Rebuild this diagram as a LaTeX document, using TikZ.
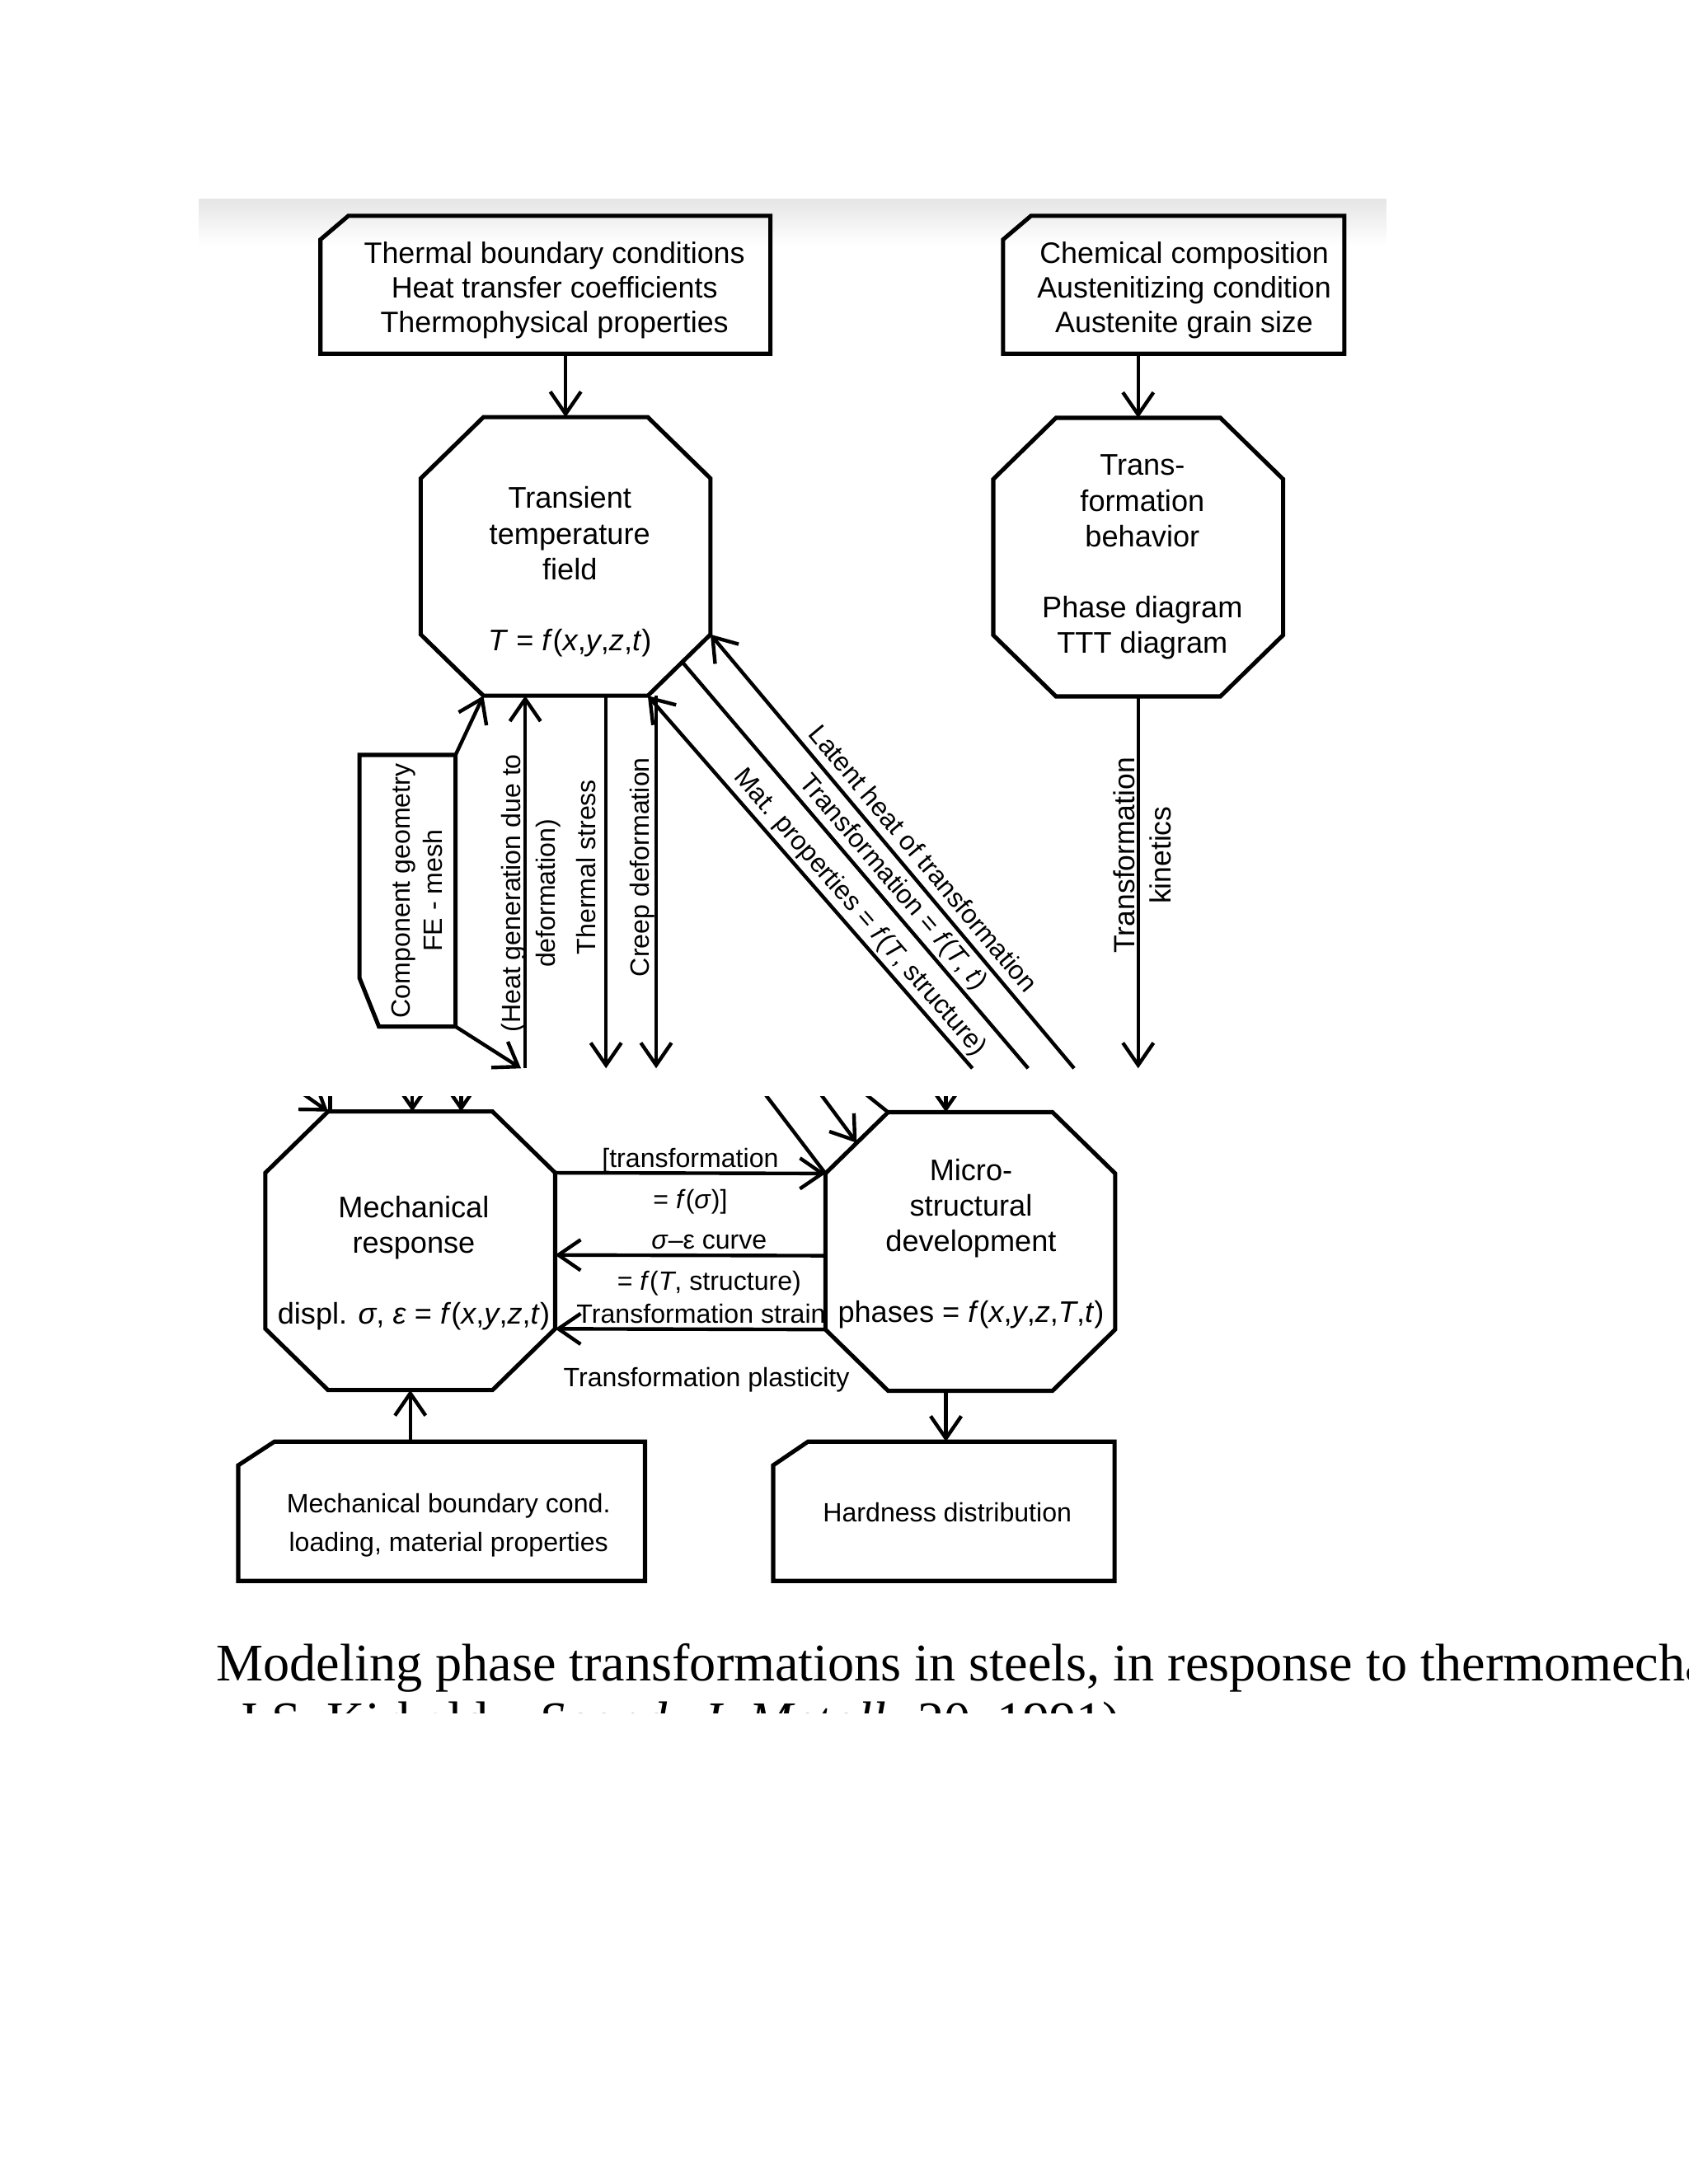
\documentclass[tikz,border=0pt]{standalone}
\usepackage{fontspec}
\usepackage{graphicx}
\setmainfont{Liberation Sans}
\newfontfamily\capfont{Liberation Serif}
\usetikzlibrary{arrows.meta,calc}

\begin{document}
\begin{tikzpicture}[x=0.5pt,y=-0.5pt,
  arr/.style={line width=1.3pt,-{Straight Barb[length=8pt,width=11pt,line width=1.3pt]}},
  ln/.style={line width=1.3pt},
  outline/.style={line width=1.5pt},
  octo/.style={minimum width=104pt,minimum height=100pt,inner sep=0pt,outer sep=0pt},
  box/.style={inner sep=0pt,outer sep=0pt},
  boxtxt/.style={align=center,inner sep=0pt},
  big/.style={font=\fontsize{10.7}{12.75}\selectfont,align=center,inner sep=0pt},
  lab/.style={font=\fontsize{9.5}{11.5}\selectfont,inner sep=1pt,text height=7pt,text depth=2pt},
  lab2/.style={font=\fontsize{9.5}{12.5}\selectfont,align=center,inner sep=0pt}]
\useasboundingbox (0,0) rectangle (1212,1568);
\shade[top color=black!10,bottom color=white] (143,143) rectangle (995,176);

% input boxes
\node[box,minimum width=161.5pt,minimum height=49.5pt] (tbc) at (391.5,204.5) {};
\node[box,minimum width=122.5pt,minimum height=49.5pt] (chem) at (842.5,204.5) {};
\node[box,minimum width=146pt,minimum height=50pt] (mbc) at (317,1085) {};
\node[box,minimum width=122.5pt,minimum height=50pt] (hard) at (677.5,1085) {};
\foreach \n/\cx/\cy in {tbc/20/17, chem/20/17, mbc/26/17, hard/25/17}
  \draw[outline] ($(\n.north west)+(\cx,0)$) -- (\n.north east) -- (\n.south east)
    -- (\n.south west) -- ($(\n.north west)+(0,\cy)$) -- cycle;
\node[boxtxt,font=\fontsize{10.6}{12.5}\selectfont] (tbc-txt) at (398,208.5)
  {Thermal boundary conditions\\Heat transfer coefficients\\Thermophysical properties};
\node[boxtxt,font=\fontsize{10.6}{12.5}\selectfont] (chem-txt) at (850,208.5)
  {Chemical composition\\Austenitizing condition\\Austenite grain size};
\node[boxtxt,font=\fontsize{9.5}{14}\selectfont] (mbc-txt) at (322,1095)
  {Mechanical boundary cond.\\loading, material properties};
\node[boxtxt,font=\fontsize{9.5}{14}\selectfont] (hard-txt) at (680,1086)
  {Hardness distribution};

\node[box,minimum width=34.5pt,minimum height=97.5pt,font=\fontsize{9.5}{11.5}\selectfont] (geo) at (292.5,639.5)
  {\hspace*{9pt}\rotatebox{90}{\begin{tabular}{@{}c@{}}Component geometry\\FE - mesh\end{tabular}}};
\draw[outline] (geo.north west) -- (geo.north east) -- (geo.south east)
  -- ($(geo.south west)+(14,0)$) -- ($(geo.south west)+(0,-35)$) -- cycle;

% octagons
\node[octo] (temp) at (406,399.5) {};
\node[octo] (trans) at (817,400) {};
\node[octo] (mech) at (294.5,898) {};
\node[octo] (micro) at (696.5,898.5) {};
\foreach \n in {temp,trans,mech,micro}{
  \coordinate (\n-1) at ($(\n.north west)+(45,0)$);
  \coordinate (\n-2) at ($(\n.north east)+(-45,0)$);
  \coordinate (\n-3) at ($(\n.north east)+(0,44)$);
  \coordinate (\n-4) at ($(\n.south east)+(0,-44)$);
  \coordinate (\n-5) at ($(\n.south east)+(-45,0)$);
  \coordinate (\n-6) at ($(\n.south west)+(45,0)$);
  \coordinate (\n-7) at ($(\n.south west)+(0,-44)$);
  \coordinate (\n-8) at ($(\n.north west)+(0,44)$);
  \draw[outline] (\n-1) -- (\n-2) -- (\n-3) -- (\n-4) -- (\n-5) -- (\n-6) -- (\n-7) -- (\n-8) -- cycle;
}
\node[big] (temp-txt) at (409,410.5) {Transient\\temperature\\field\\[12.75pt]\textit{T} = \textit{f}(\textit{x},\textit{y},\textit{z},\textit{t})};
\node[big] (trans-txt) at (820,400) {Trans-\\formation\\behavior\\[12.75pt]Phase diagram\\TTT diagram};
\node[big] (mech-txt) at (297,907) {Mechanical\\response\\[12.75pt]displ. \textit{σ}, \textit{ε} = \textit{f}(\textit{x},\textit{y},\textit{z},\textit{t})};
\node[big] (micro-txt) at (697,893) {Micro-\\structural\\development\\[12.75pt]phases = \textit{f}(\textit{x},\textit{y},\textit{z},\textit{T},\textit{t})};

% upper connectors
\coordinate (cg1) at (374,767);
\coordinate (hg1) at (377,767);
\coordinate (ts1) at (435,767);
\coordinate (cr1) at (471,767);
\coordinate (mp1) at (698,767);
\coordinate (tf1) at (738,767);
\coordinate (lh1) at (771,767);
\coordinate (tk1) at (817,767);
\draw[arr] (temp.north |- tbc.south) -- (temp.north);
\draw[arr] (trans.north |- chem.south) -- (trans.north);
\draw[arr] (geo.north east) -- (temp-6);
\draw[arr] (geo.south east) -- (cg1);
\draw[arr] (hg1) -- node[lab2,xshift=2pt,rotate=90,pos=.47]{(Heat generation due to\\deformation)} (hg1 |- temp.south);
\draw[arr] (ts1 |- temp.south) -- node[lab,rotate=90,anchor=south,pos=.46]{Thermal stress} (ts1);
\draw[arr] (cr1 |- temp.south) -- node[lab,xshift=1pt,rotate=90,anchor=south,pos=.46]{Creep deformation} (cr1);
\draw[arr] (mp1) -- node[lab,rotate=-49,anchor=south,pos=.387]{Mat. properties = \textit{f}(\textit{T}, structure)} (temp-5);
\draw[ln] ($(temp-5)!.55!(temp-4)$) -- node[lab,rotate=-49.5,anchor=south,pos=.57]{Transformation = \textit{f}(\textit{T}, \textit{t})} (tf1);
\draw[arr] (lh1) -- node[lab,rotate=-50,anchor=south,pos=.455]{Latent heat of transformation} (temp-4);
\draw[arr] (trans.south) -- node[font=\fontsize{10.5}{13}\selectfont,align=center,inner sep=0pt,xshift=1.5pt,rotate=90,pos=.427]{Transformation\\kinetics} (tk1);

% lower connectors
\coordinate (cg2) at (210,780);
\coordinate (hg2) at (237,780);
\coordinate (ts2) at (296,780);
\coordinate (cr2) at (331,780);
\coordinate (mp2) at (545,780);
\coordinate (tf2) at (585,780);
\coordinate (lh2) at (614.5,780);
\coordinate (tk2) at (679,780);
\begin{scope}
\clip (0,787) rectangle (1212,1568);
\draw[arr] (cg2) -- (mech-1);
\draw[ln] (hg2) -- (hg2 |- mech.north);
\draw[arr] (ts2) -- (ts2 |- mech.north);
\draw[arr] (cr2) -- (cr2 |- mech.north);
\draw[ln] (mp2) -- (micro-8);
\draw[arr] (tf2) -- ($(micro-8)!.5!(micro-1)$);
\draw[ln] (lh2) -- (micro-1);
\draw[arr] (tk2) -- (tk2 |- micro.north);
\end{scope}

\draw[arr] (mech-3) -- node[lab,above=-1.5pt]{[transformation} node[lab,below=4pt]{= \textit{f}(\textit{σ})]} (micro-8);
\draw[arr] ([yshift=-1.5pt]micro.west) -- node[lab,above=-1.5pt,pos=.43]{\textit{σ}–ε curve} node[lab,below=4pt,pos=.43]{= \textit{f}(\textit{T}, structure)} ([yshift=-1.5pt]mech.east);
\draw[arr] (micro-7) -- node[lab,above=-1.5pt,pos=.46]{Transformation strain} node[lab,below=12pt,pos=.44]{Transformation plasticity} (mech-4);
\draw[arr] (mech.south |- mbc.north) -- (mech.south);
\draw[arr] (tk2 |- micro.south) -- (tk2 |- hard.north);

% caption
\begin{scope}
\clip (0,0) rectangle (1212,1230);
\node[anchor=base west,inner sep=0pt,font=\capfont\fontsize{19}{22}\selectfont] (cap1) at (155,1207)
  {Modeling phase transformations in steels, in response to thermomechanical};
\node[anchor=base west,inner sep=0pt,font=\capfont\fontsize{19}{22}\selectfont] (cap2) at (170,1248)
  {J.S. Kirkaldy, \textit{Scand. J. Metall.} 20, 1991)};
\end{scope}
\end{tikzpicture}
\end{document}
